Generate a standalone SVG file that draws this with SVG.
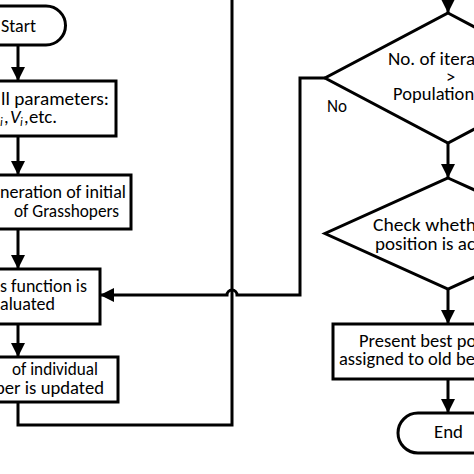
<svg xmlns="http://www.w3.org/2000/svg" width="474" height="474" viewBox="0 0 474 474">
<style>
.s{fill:#fff;stroke:#000;stroke-width:3}
.c{fill:none;stroke:#000;stroke-width:3}
.t{font-family:Carlito,Lato,"Liberation Sans",sans-serif;font-size:18.5px;fill:#000}
.i{font-style:italic}
.sub{font-style:italic;font-size:12px}
</style>
<defs>
<marker id="ah" viewBox="0 0 14 14" refX="14" refY="7" markerWidth="14" markerHeight="14" markerUnits="userSpaceOnUse" orient="auto">
<path d="M0,0 L14,7 L0,14 Z" fill="#000"/>
</marker>
</defs>
<rect width="474" height="474" fill="#fff"/>
<g id="connectors">
<path class="c" d="M18,45 V81" marker-end="url(#ah)"/>
<path class="c" d="M18,136 V175" marker-end="url(#ah)"/>
<path class="c" d="M18,229 V269" marker-end="url(#ah)"/>
<path class="c" d="M18,324 V357" marker-end="url(#ah)"/>
<path class="c" d="M18,402 V425 H232 V-10"/>
<path class="c" d="M325,78 H300 V295 H237 A5,5 0 0 0 227,295 H100" marker-end="url(#ah)"/>
<path class="c" d="M448,-10 V13" marker-end="url(#ah)"/>
<path class="c" d="M448,143 V178" marker-end="url(#ah)"/>
<path class="c" d="M448,289 V324" marker-end="url(#ah)"/>
<path class="c" d="M448,379 V413" marker-end="url(#ah)"/>
</g>
<g id="start">
<path class="s" d="M-30,6 H46 A19.5,19.5 0 0 1 46,45 H-30 Z"/>
<text class="t" x="1" y="32" textLength="35" lengthAdjust="spacingAndGlyphs">Start</text>
</g>
<g id="init-params">
<rect class="s" x="-10" y="81" width="126" height="55"/>
<text class="t" x="1" y="105" textLength="108" lengthAdjust="spacingAndGlyphs">ll parameters:</text>
<text class="t" y="123"><tspan class="sub" x="0" dy="3">i</tspan><tspan x="4" dy="-3">,</tspan><tspan class="i" x="10">V</tspan><tspan class="sub" x="20" dy="3">i</tspan><tspan x="24" dy="-3">,</tspan><tspan x="29" textLength="28" lengthAdjust="spacingAndGlyphs">etc.</tspan></text>
</g>
<g id="generation">
<rect class="s" x="-10" y="175" width="141" height="54"/>
<text class="t" x="0" y="198" textLength="126" lengthAdjust="spacingAndGlyphs">neration of initial</text>
<text class="t" x="14" y="217" textLength="105" lengthAdjust="spacingAndGlyphs">of Grasshopers</text>
</g>
<g id="fitness">
<rect class="s" x="-10" y="269" width="110" height="55"/>
<text class="t" x="0" y="292" textLength="87" lengthAdjust="spacingAndGlyphs">s function is</text>
<text class="t" x="0" y="310" textLength="55" lengthAdjust="spacingAndGlyphs">aluated</text>
</g>
<g id="update">
<rect class="s" x="-10" y="357" width="128" height="45"/>
<text class="t" x="12" y="375" textLength="86" lengthAdjust="spacingAndGlyphs">of individual</text>
<text class="t" x="-5" y="394" textLength="109" lengthAdjust="spacingAndGlyphs">per is updated</text>
</g>
<g id="decision-iter">
<path class="s" d="M448,13 L571,78 L448,143 L325,78 Z"/>
<text class="t" x="388" y="65" textLength="87" lengthAdjust="spacingAndGlyphs">No. of itera</text>
<text class="t" x="446" y="83">&gt;</text>
<text class="t" x="393" y="100">Population</text>
</g>
<text class="t" x="327" y="112" textLength="20" lengthAdjust="spacingAndGlyphs">No</text>
<g id="decision-check">
<path class="s" d="M448,178 L571,233.5 L448,289 L325,233.5 Z"/>
<text class="t" x="373" y="231" textLength="103" lengthAdjust="spacingAndGlyphs">Check wheth</text>
<text class="t" x="375" y="250" textLength="100" lengthAdjust="spacingAndGlyphs">position is ac</text>
</g>
<g id="present">
<rect class="s" x="333" y="324" width="250" height="55"/>
<text class="t" x="359" y="347">Present best po</text>
<text class="t" x="339" y="365">assigned to old be</text>
</g>
<g id="end">
<path class="s" d="M520,413 H418 A20,20 0 0 0 418,453 H520 Z"/>
<text class="t" x="434" y="438" textLength="29" lengthAdjust="spacingAndGlyphs">End</text>
</g>
</svg>
